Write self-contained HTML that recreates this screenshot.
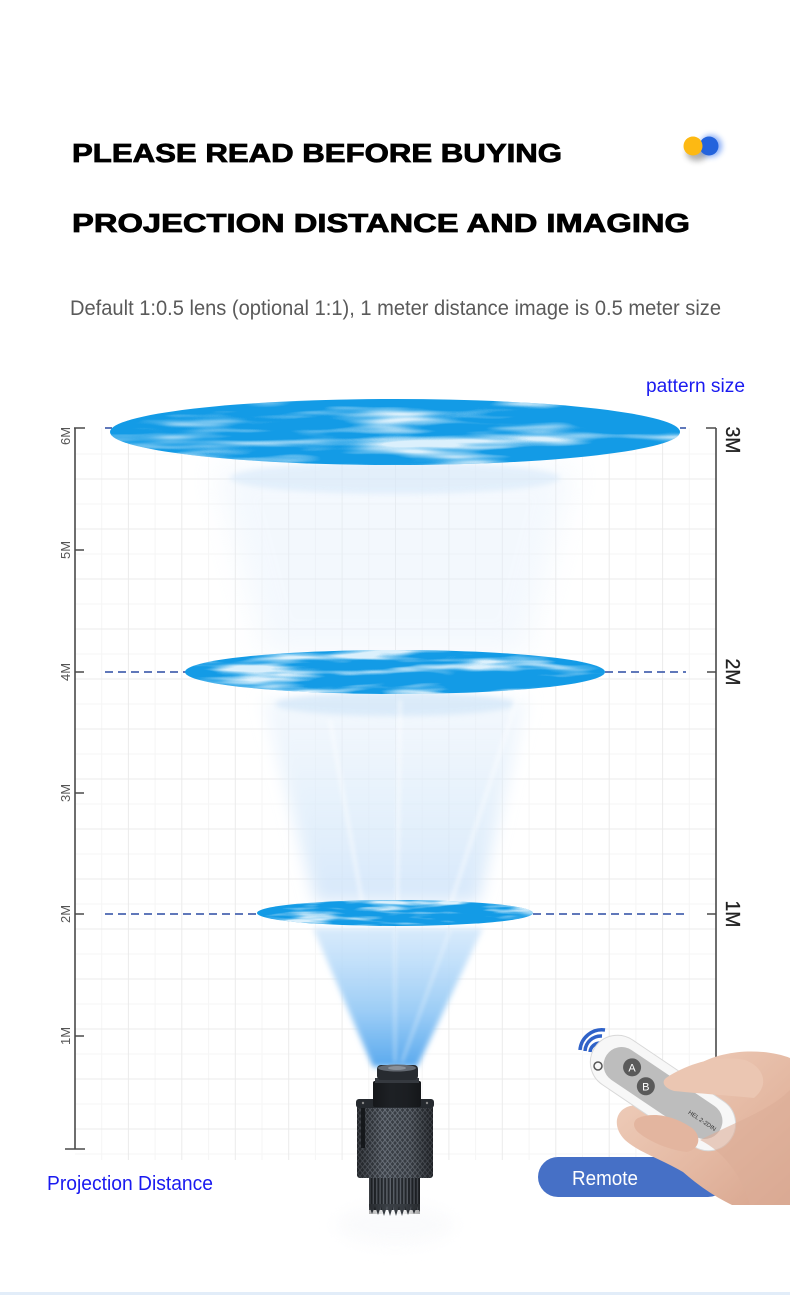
<!DOCTYPE html>
<html><head><meta charset="utf-8">
<style>
html,body{margin:0;padding:0;background:#fff;}
svg{display:block;}
</style></head>
<body>
<svg width="790" height="1295" viewBox="0 0 790 1295" xmlns="http://www.w3.org/2000/svg">
<defs>
  <filter id="b3" x="-50%" y="-50%" width="200%" height="200%"><feGaussianBlur stdDeviation="3"/></filter>
  <filter id="b8" x="-50%" y="-50%" width="200%" height="200%"><feGaussianBlur stdDeviation="8"/></filter>
  <filter id="b15" x="-50%" y="-50%" width="200%" height="200%"><feGaussianBlur stdDeviation="15"/></filter>
  <filter id="b2" x="-50%" y="-50%" width="200%" height="200%"><feGaussianBlur stdDeviation="2"/></filter>
  <filter id="cl1" x="0" y="0" width="100%" height="100%">
    <feTurbulence type="fractalNoise" baseFrequency="0.006 0.06" numOctaves="3" seed="4"/>
    <feColorMatrix type="matrix" values="0 0 0 0 1  0 0 0 0 1  0 0 0 0 1  4 0 0 0 -1.95"/>
  </filter>
  <filter id="cl2" x="0" y="0" width="100%" height="100%">
    <feTurbulence type="fractalNoise" baseFrequency="0.009 0.08" numOctaves="3" seed="9"/>
    <feColorMatrix type="matrix" values="0 0 0 0 1  0 0 0 0 1  0 0 0 0 1  4 0 0 0 -1.95"/>
  </filter>
  <filter id="cl3" x="0" y="0" width="100%" height="100%">
    <feTurbulence type="fractalNoise" baseFrequency="0.014 0.12" numOctaves="3" seed="2"/>
    <feColorMatrix type="matrix" values="0 0 0 0 1  0 0 0 0 1  0 0 0 0 1  4 0 0 0 -1.95"/>
  </filter>
  <clipPath id="e1"><ellipse cx="395" cy="432" rx="285" ry="33"/></clipPath>
  <clipPath id="e2"><ellipse cx="395" cy="672" rx="210" ry="22"/></clipPath>
  <clipPath id="e3"><ellipse cx="395" cy="913" rx="138" ry="13"/></clipPath>
  <linearGradient id="beamLow" x1="0" y1="0" x2="0" y2="1">
    <stop offset="0" stop-color="#cfe6fb" stop-opacity="0.8"/>
    <stop offset="0.6" stop-color="#9ccdf6"/>
    <stop offset="1" stop-color="#5aa9ee"/>
  </linearGradient>
  <linearGradient id="beamMid" x1="0" y1="0" x2="0" y2="1">
    <stop offset="0" stop-color="#e8f2fc" stop-opacity="0.5"/>
    <stop offset="1" stop-color="#cfe4f9" stop-opacity="0.85"/>
  </linearGradient>
  <pattern id="knurl" width="5" height="6" patternUnits="userSpaceOnUse">
    <rect width="5" height="6" fill="#3c4148"/>
    <path d="M0 0L5 6M5 0L0 6" stroke="#6b727b" stroke-width="0.9"/>
  </pattern>
  <pattern id="fins" width="3.4" height="10" patternUnits="userSpaceOnUse">
    <rect width="3.4" height="10" fill="#5d636b"/>
    <rect width="2" height="10" fill="#262a2f"/>
  </pattern>
  <linearGradient id="bodyShade" x1="0" y1="0" x2="1" y2="0">
    <stop offset="0" stop-color="#000" stop-opacity="0.45"/>
    <stop offset="0.35" stop-color="#000" stop-opacity="0"/>
    <stop offset="0.7" stop-color="#000" stop-opacity="0.1"/>
    <stop offset="1" stop-color="#000" stop-opacity="0.5"/>
  </linearGradient>
  <linearGradient id="skin" x1="0" y1="0" x2="1" y2="1">
    <stop offset="0" stop-color="#f1d2c0"/>
    <stop offset="0.6" stop-color="#e4b8a2"/>
    <stop offset="1" stop-color="#d7a48d"/>
  </linearGradient>
</defs>

<rect width="790" height="1295" fill="#fff"/>

<!-- Titles -->
<text x="72" y="162" font-family="Liberation Sans, Arial, sans-serif" font-weight="bold" font-size="26" fill="#000" stroke="#000" stroke-width="0.8" textLength="490" lengthAdjust="spacingAndGlyphs">PLEASE READ BEFORE BUYING</text>
<text x="72" y="232" font-family="Liberation Sans, Arial, sans-serif" font-weight="bold" font-size="26" fill="#000" stroke="#000" stroke-width="0.8" textLength="618" lengthAdjust="spacingAndGlyphs">PROJECTION DISTANCE AND IMAGING</text>

<!-- dots icon -->
<ellipse cx="697" cy="153" rx="11" ry="8" fill="#555" opacity="0.45" filter="url(#b3)"/>
<circle cx="711" cy="146" r="11" fill="#2a6cf0" opacity="0.55" filter="url(#b3)"/>
<circle cx="709" cy="146" r="9.5" fill="#2363dc"/>
<circle cx="693" cy="146" r="9.5" fill="#fdb913"/>

<!-- subtitle -->
<text x="70" y="315" font-family="Liberation Sans, Arial, sans-serif" font-size="21" fill="#5a5a5a" textLength="651" lengthAdjust="spacingAndGlyphs">Default 1:0.5 lens (optional 1:1), 1 meter distance image is 0.5 meter size</text>

<text x="646" y="392" font-family="Liberation Sans, Arial, sans-serif" font-size="19" fill="#1a1af0" textLength="99" lengthAdjust="spacingAndGlyphs">pattern size</text>

<!-- grid -->
<g stroke="#f5f5f5" stroke-width="1" fill="none">
  <path d="M101.7 428V1160M155.1 428V1160M208.6 428V1160M262 428V1160M315.4 428V1160M368.8 428V1160M422.2 428V1160M475.6 428V1160M529.1 428V1160M582.5 428V1160M635.9 428V1160M689.3 428V1160"/>
  <path d="M75 454H716M75 504H716M75 554H716M75 604H716M75 654H716M75 704H716M75 754H716M75 804H716M75 854H716M75 904H716M75 954H716M75 1004H716M75 1054H716M75 1104H716M75 1154H716"/>
</g>
<g stroke="#ebebeb" stroke-width="1" fill="none">
  <path d="M128.4 428V1160M181.8 428V1160M235.3 428V1160M288.7 428V1160M342.1 428V1160M395.5 428V1160M448.9 428V1160M502.3 428V1160M555.8 428V1160M609.2 428V1160M662.6 428V1160"/>
  <path d="M75 479H716M75 529H716M75 579H716M75 629H716M75 679H716M75 729H716M75 779H716M75 829H716M75 879H716M75 929H716M75 979H716M75 1029H716M75 1079H716M75 1129H716"/>
</g>

<!-- beams -->
<polygon points="215,466 575,466 525,655 265,655" fill="#e3effc" opacity="0.4" filter="url(#b15)"/>
<ellipse cx="395" cy="478" rx="165" ry="16" fill="#d6e8f9" opacity="0.6" filter="url(#b3)"/>
<polygon points="262,698 528,698 478,902 316,902" fill="url(#beamMid)" filter="url(#b8)"/>
<ellipse cx="395" cy="704" rx="120" ry="12" fill="#d0e5f8" opacity="0.7" filter="url(#b3)"/>
<g opacity="0.6" stroke="#fff" stroke-width="3" filter="url(#b2)">
  <line x1="395" y1="1060" x2="400" y2="700"/>
  <line x1="400" y1="1060" x2="520" y2="690"/>
  <line x1="390" y1="1060" x2="330" y2="720"/>
</g>
<polygon points="313,928 483,928 417,1067 373,1067" fill="url(#beamLow)" filter="url(#b3)"/>
<g opacity="0.5" stroke="#fff" stroke-width="2" filter="url(#b2)">
  <line x1="395" y1="1062" x2="395" y2="930"/>
  <line x1="402" y1="1062" x2="450" y2="930"/>
</g>

<!-- dashed lines -->
<g stroke="#4a66b0" stroke-width="1.8" stroke-dasharray="8 5" fill="none">
  <path d="M105 672H186M605 672H686"/>
  <path d="M105 914H258M533 914H686"/>
</g>
<g stroke="#4a66b0" stroke-width="1.8" fill="none">
  <path d="M105 428H112M680 428H686"/>
</g>

<!-- top ellipse -->
<ellipse cx="395" cy="432" rx="285" ry="33" fill="#139be6"/>
<g clip-path="url(#e1)"><rect x="110" y="399" width="570" height="66" filter="url(#cl1)" opacity="0.85"/></g>
<!-- mid ellipse -->
<ellipse cx="395" cy="672" rx="210" ry="22" fill="#139be6"/>
<g clip-path="url(#e2)"><rect x="185" y="650" width="420" height="44" filter="url(#cl2)" opacity="0.85"/></g>
<!-- bottom ellipse -->
<ellipse cx="395" cy="913" rx="138" ry="13" fill="#139be6"/>
<g clip-path="url(#e3)"><rect x="257" y="900" width="276" height="26" filter="url(#cl3)" opacity="0.85"/></g>

<!-- left axis -->
<g stroke="#4a4a4a" stroke-width="1.6" fill="none">
  <path d="M75 428V1149"/>
  <path d="M74 428H85M75 550H84M75 672H84M75 793H84M75 914H84M75 1036H84M65 1149H85"/>
</g>
<g font-family="Liberation Sans, Arial, sans-serif" font-size="13" fill="#555" text-anchor="middle">
  <text transform="translate(70,436) rotate(-90)" textLength="18" lengthAdjust="spacingAndGlyphs">6M</text>
  <text transform="translate(70,550) rotate(-90)" textLength="18" lengthAdjust="spacingAndGlyphs">5M</text>
  <text transform="translate(70,672) rotate(-90)" textLength="18" lengthAdjust="spacingAndGlyphs">4M</text>
  <text transform="translate(70,793) rotate(-90)" textLength="18" lengthAdjust="spacingAndGlyphs">3M</text>
  <text transform="translate(70,914) rotate(-90)" textLength="18" lengthAdjust="spacingAndGlyphs">2M</text>
  <text transform="translate(70,1036) rotate(-90)" textLength="18" lengthAdjust="spacingAndGlyphs">1M</text>
</g>

<!-- right axis -->
<g stroke="#4a4a4a" stroke-width="1.6" fill="none">
  <path d="M716 428V1150"/>
  <path d="M706 428H716M707 672H716M707 914H716"/>
</g>
<g font-family="Liberation Sans, Arial, sans-serif" font-size="20" fill="#222" stroke="#222" stroke-width="0.3" text-anchor="middle">
  <text transform="translate(726,440) rotate(90)" textLength="27" lengthAdjust="spacingAndGlyphs">3M</text>
  <text transform="translate(726,672) rotate(90)" textLength="27" lengthAdjust="spacingAndGlyphs">2M</text>
  <text transform="translate(726,914) rotate(90)" textLength="27" lengthAdjust="spacingAndGlyphs">1M</text>
</g>

<text x="47" y="1190" font-family="Liberation Sans, Arial, sans-serif" font-size="20" fill="#1a1af0" textLength="166" lengthAdjust="spacingAndGlyphs">Projection Distance</text>

<!-- projector -->
<ellipse cx="395" cy="1225" rx="60" ry="20" fill="#f7f8fa" opacity="0.6" filter="url(#b8)"/>
<rect x="369" y="1170" width="51" height="40" fill="url(#fins)"/>
<path d="M369 1205 L372 1214 L375 1206 L378 1215 L381 1206 L384 1216 L387 1206 L390 1216 L393 1206 L396 1216 L399 1206 L402 1216 L405 1206 L408 1215 L411 1206 L414 1214 L417 1206 L420 1212 L420 1204 L369 1204Z" fill="#3a3f45"/>
<rect x="369" y="1170" width="51" height="44" fill="url(#bodyShade)" opacity="0.7"/>
<rect x="357" y="1104" width="76" height="74" rx="3" fill="url(#knurl)"/>
<rect x="357" y="1104" width="76" height="74" rx="3" fill="url(#bodyShade)"/>
<rect x="361" y="1108" width="4" height="40" fill="#15181b"/>
<rect x="356" y="1099" width="78" height="9" rx="3" fill="#262a2f"/>
<circle cx="363" cy="1103" r="1.2" fill="#888"/>
<circle cx="427" cy="1103" r="1.2" fill="#888"/>
<rect x="373" y="1081" width="48" height="26" rx="2" fill="#1d2024"/>
<rect x="373" y="1081" width="48" height="26" rx="2" fill="url(#bodyShade)" opacity="0.6"/>
<rect x="375" y="1078" width="44" height="5" fill="#35393f"/>
<rect x="377" y="1065" width="41" height="15" rx="4" fill="#272b30"/>
<ellipse cx="397" cy="1068" rx="19" ry="3.5" fill="#646a72"/>
<ellipse cx="397" cy="1068" rx="9" ry="2" fill="#8a9098"/>

<!-- remote pill -->
<rect x="538" y="1157" width="190" height="40" rx="20" fill="#4670c6"/>
<text x="572" y="1185" font-family="Liberation Sans, Arial, sans-serif" font-size="20" fill="#fff" textLength="66" lengthAdjust="spacingAndGlyphs">Remote</text>

<!-- wifi -->
<g fill="none" stroke="#2f62c8" stroke-width="3.5" stroke-linecap="butt">
  <path d="M590 1052 A 10 10 0 0 1 600 1043"/>
  <path d="M585 1051 A 16 16 0 0 1 602 1036"/>
  <path d="M580 1050 A 22 22 0 0 1 605 1030"/>
</g>

<!-- hand back -->
<path d="M695 1066 C 728 1046, 770 1050, 790 1058 L 790 1205 L 732 1205 C 712 1195, 698 1185, 683 1172 C 663 1160, 638 1152, 625 1140 C 612 1127, 615 1110, 630 1106 C 650 1103, 668 1098, 686 1080 Z" fill="url(#skin)"/>

<!-- remote -->
<g transform="translate(663,1093) rotate(34)">
  <rect x="-82" y="-27" width="164" height="54" rx="27" fill="#f7f7f7" stroke="#d8d8d8" stroke-width="1"/>
  <rect x="-68" y="-18" width="136" height="36" rx="18" fill="#bdbdbd"/>
  <circle cx="-40" cy="-4" r="9" fill="#5a5a5a"/>
  <circle cx="-18" cy="4" r="9" fill="#5a5a5a"/>
  <text x="-40" y="0" font-family="Liberation Sans, Arial, sans-serif" font-size="11" fill="#fff" text-anchor="middle" transform="rotate(-34 -40 -4)">A</text>
  <text x="-18" y="8" font-family="Liberation Sans, Arial, sans-serif" font-size="11" fill="#fff" text-anchor="middle" transform="rotate(-34 -18 4)">B</text>
  <text x="48" y="3" font-family="Liberation Sans, Arial, sans-serif" font-size="6" fill="#333" text-anchor="middle">HEL 2-2DIN</text>
</g>
<circle cx="598" cy="1066" r="4" fill="none" stroke="#555" stroke-width="1.5"/>

<!-- thumb and fingers front -->
<path d="M666 1078 C 690 1062, 720 1055, 745 1060 C 764 1067, 770 1085, 754 1098 C 735 1096, 705 1094, 674 1091 C 664 1088, 661 1082, 666 1078 Z" fill="#ebc6b2"/>
<path d="M638 1118 C 655 1111, 676 1117, 692 1128 C 702 1136, 700 1149, 687 1152 C 668 1150, 649 1141, 639 1133 C 632 1127, 633 1121, 638 1118 Z" fill="#e3b59f"/>
<path d="M700 1140 C 720 1150, 740 1170, 750 1205 L 790 1205 L 790 1090 C 770 1110, 740 1120, 700 1140 Z" fill="#dcae98" opacity="0.6"/>

<!-- bottom line -->
<rect x="0" y="1292" width="790" height="3" fill="#e2edf9"/>
</svg>
</body></html>
